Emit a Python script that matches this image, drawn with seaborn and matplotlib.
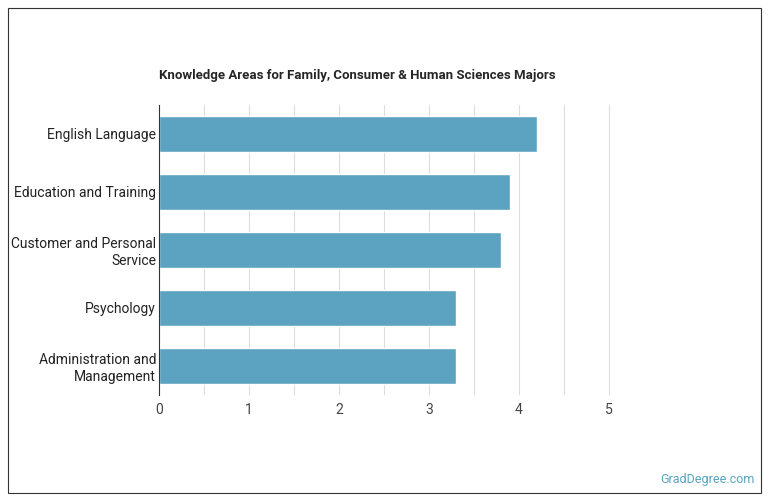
import matplotlib
matplotlib.use("Agg")
import matplotlib.pyplot as plt
import seaborn as sns
import pandas as pd
from matplotlib.patches import Rectangle

categories = ["English Language", "Education and Training", "Customer and Personal\nService", "Psychology", "Administration and\nManagement"]
values = [4.2, 3.9, 3.8, 3.3, 3.3]
xticks = [0, 1, 2, 3, 4, 5]

sns.set_style("white")
plt.rcParams['font.family'] = ['Roboto', 'DejaVu Sans']

df = pd.DataFrame({"cat": categories, "val": values})
fig = plt.figure(figsize=(7.7, 5.03), dpi=100)
ax = fig.add_axes([159/770, 1-395/503, (654-159)/770, 290/503])
sns.barplot(data=df, x="val", y="cat", color="#5ba3c0", width=0.62, saturation=1, ax=ax, orient="h")
ax.set_xlim(0, 5.5)
for g in [i*0.5 for i in range(1, 11)]:
    ax.axvline(g, color="#dddddd", lw=0.8, zorder=0)
ax.set_xticks(xticks)
ax.set_xticklabels([str(t) for t in xticks], fontsize=10, color="#444444")
ax.tick_params(axis='y', labelsize=10, colors="#222222", length=0, pad=2)
ax.tick_params(axis='x', length=0, pad=6)
for s in ["top", "right", "bottom"]:
    ax.spines[s].set_visible(False)
ax.spines["left"].set_color("#333333")
ax.spines["left"].set_linewidth(0.8)
ax.set_xlabel("")
ax.set_ylabel("")
fig.text(159/770, 1-76/503, "Knowledge Areas for Family, Consumer & Human Sciences Majors",
         fontsize=9.5, fontweight="bold", va="center", ha="left")
fig.text(755/770, 1-480/503, "GradDegree.com", fontsize=9, color="#5ba3c0", ha="right", va="center")
fig.patches.append(Rectangle((8/770, 1-493/503), 753/770, 485/503, transform=fig.transFigure,
                             fill=False, edgecolor="#333333", lw=0.8))
fig.savefig("out.png", dpi=100)
